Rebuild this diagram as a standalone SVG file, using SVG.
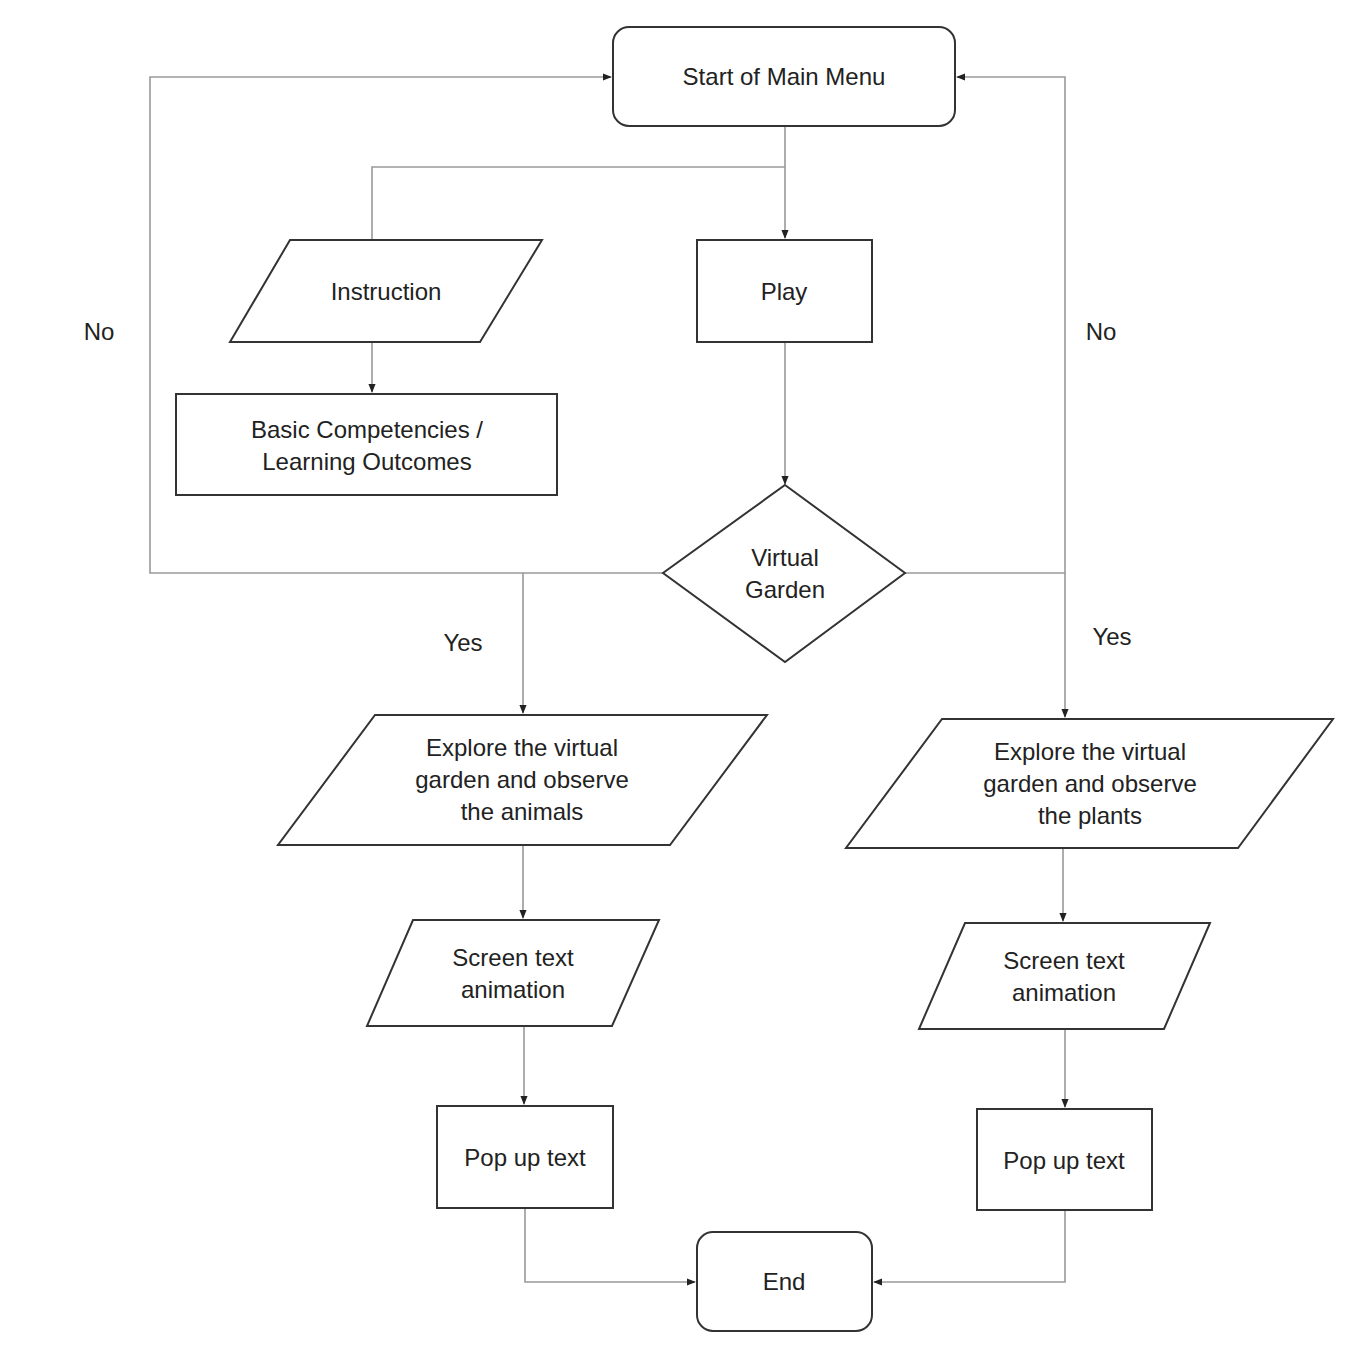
<svg xmlns="http://www.w3.org/2000/svg" width="1362" height="1360" viewBox="0 0 1362 1360">
<style>
.s{fill:#fff;stroke:#333;stroke-width:2}
.c{fill:none;stroke:#999;stroke-width:1.6}
text{font-family:"Liberation Sans",Arial,sans-serif;font-size:24px;fill:#222;text-anchor:middle}
</style>
<defs><marker id="a" viewBox="0 0 10 10" refX="9" refY="5" markerWidth="9" markerHeight="9" markerUnits="userSpaceOnUse" orient="auto"><path d="M0,1L10,5L0,9z" fill="#222"/></marker></defs>
<rect width="1362" height="1360" fill="#fff"/>
<g id="connectors">
<path class="c" d="M785,126V238" marker-end="url(#a)"/>
<path class="c" d="M785,167H372V240"/>
<path class="c" d="M372,342V392" marker-end="url(#a)"/>
<path class="c" d="M785,342V484" marker-end="url(#a)"/>
<path class="c" d="M663,573H150V77H611" marker-end="url(#a)"/>
<path class="c" d="M523,573V713" marker-end="url(#a)"/>
<path class="c" d="M905,573H1065V77H957" marker-end="url(#a)"/>
<path class="c" d="M1065,573V717" marker-end="url(#a)"/>
<path class="c" d="M523,845V918" marker-end="url(#a)"/>
<path class="c" d="M524,1026V1104" marker-end="url(#a)"/>
<path class="c" d="M1063,848V921" marker-end="url(#a)"/>
<path class="c" d="M1065,1029V1107" marker-end="url(#a)"/>
<path class="c" d="M525,1208V1282H695" marker-end="url(#a)"/>
<path class="c" d="M1065,1210V1282H874" marker-end="url(#a)"/>
</g>
<g id="start"><rect class="s" x="613" y="27" width="342" height="99" rx="16"/><text x="784" y="85">Start of Main Menu</text></g>
<g id="instruction"><polygon class="s" points="290,240 542,240 480,342 230,342"/><text x="386" y="300">Instruction</text></g>
<g id="play"><rect class="s" x="697" y="240" width="175" height="102"/><text x="784" y="300">Play</text></g>
<g id="basic"><rect class="s" x="176" y="394" width="381" height="101"/><text x="367" y="438">Basic Competencies /</text><text x="367" y="470">Learning Outcomes</text></g>
<g id="garden"><polygon class="s" points="785,485 905,573 785,662 663,573"/><text x="785" y="566">Virtual</text><text x="785" y="598">Garden</text></g>
<g id="exploreA"><polygon class="s" points="375,715 767,715 670,845 278,845"/><text x="522" y="756">Explore the virtual</text><text x="522" y="788">garden and observe</text><text x="522" y="820">the animals</text></g>
<g id="exploreP"><polygon class="s" points="942,719 1333,719 1238,848 846,848"/><text x="1090" y="760">Explore the virtual</text><text x="1090" y="792">garden and observe</text><text x="1090" y="824">the plants</text></g>
<g id="screenA"><polygon class="s" points="413,920 659,920 612,1026 367,1026"/><text x="513" y="966">Screen text</text><text x="513" y="998">animation</text></g>
<g id="screenP"><polygon class="s" points="965,923 1210,923 1164,1029 919,1029"/><text x="1064" y="969">Screen text</text><text x="1064" y="1001">animation</text></g>
<g id="popA"><rect class="s" x="437" y="1106" width="176" height="102"/><text x="525" y="1166">Pop up text</text></g>
<g id="popP"><rect class="s" x="977" y="1109" width="175" height="101"/><text x="1064" y="1169">Pop up text</text></g>
<g id="end"><rect class="s" x="697" y="1232" width="175" height="99" rx="16"/><text x="784" y="1290">End</text></g>
<g id="labels"><text x="99" y="340">No</text><text x="1101" y="340">No</text><text x="463" y="651">Yes</text><text x="1112" y="645">Yes</text></g>
</svg>
